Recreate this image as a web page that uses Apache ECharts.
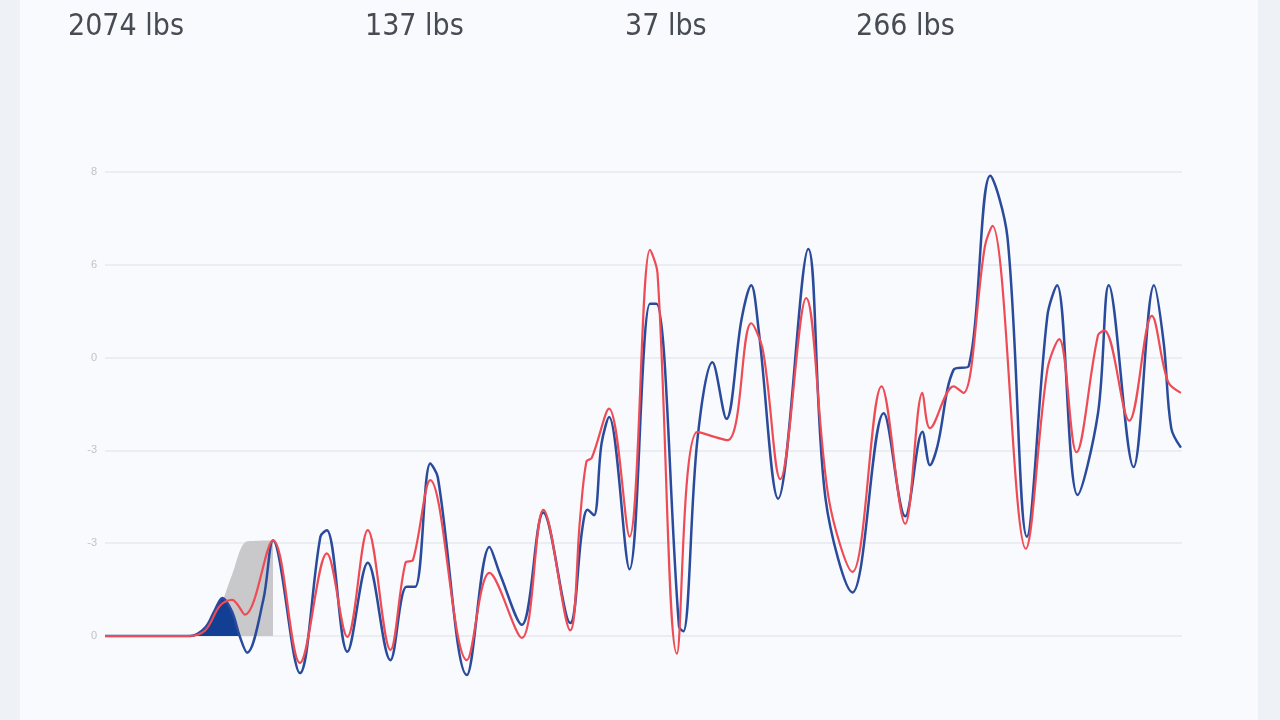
<!DOCTYPE html>
<html>
<head>
<meta charset="utf-8">
<title>chart</title>
<script src="https://cdn.jsdelivr.net/npm/echarts@6/dist/echarts.min.js"></script>
<style>
  html, body { margin: 0; padding: 0; background: #eef1f5; }
  #card { position: absolute; left: 20px; top: 0; width: 1238px; height: 720px; background: #f8fafd; }
  #chart { position: absolute; left: 0; top: 0; width: 1280px; height: 720px; }
</style>
</head>
<body>
<div id="card"></div>
<div id="chart"></div>
<script>
// header figures
var headerLabels = ['2074 lbs', '137 lbs', '37 lbs', '266 lbs'];
var headerX = [68, 365, 625, 856];
// y tick labels, bottom to top
var yTickLabels = ['0', '-3', '-3', '0', '6', '8'];

// [x, value] samples
var blueLine = [[0,0],[7.9,0],[9.3,0.09],[10.2,0.28],[10.9,0.41],[11.8,0.26],[12.5,0],[13.2,-0.18],[14.7,0.39],[15.6,1.03],
  [18.1,-0.40],[20.0,1.07],[20.6,1.14],[22.5,-0.17],[24.4,0.79],[26.5,-0.26],[28.0,0.53],[28.8,0.53],[30.2,1.86],[30.9,1.71],
  [33.6,-0.42],[35.7,0.96],[36.7,0.66],[38.7,0.12],[40.7,1.33],[43.2,0.14],[44.3,1.14],[44.8,1.36],[45.4,1.30],[46.1,2.07],
  [46.8,2.36],[48.7,0.72],[50.6,3.58],[51.2,3.58],[53.3,0.10],[53.7,0.05],[55.0,2.11],[56.4,2.95],[57.7,2.34],[59.1,3.41],
  [60.0,3.78],[60.7,3.29],[62.5,1.48],[65.3,4.17],[66.9,1.48],[69.4,0.47],[72.3,2.40],[74.3,1.29],[75.9,2.20],[76.6,1.84],
  [77.3,2.05],[78.8,2.87],[80.2,2.91],[82.2,4.96],[83.8,4.29],[85.6,1.07],[87.5,3.45],[88.4,3.78],[90.3,1.52],[92.2,2.40],
  [93.2,3.78],[95.5,1.82],[97.4,3.78],[98.3,3.16],[99.0,2.24],[99.9,2.03]];
var redLine = [[0,0],[7.7,0],[9.3,0.06],[10.7,0.33],[11.8,0.39],[13.0,0.23],[15.6,1.03],
  [18.1,-0.29],[20.6,0.89],[22.5,-0.01],[24.4,1.14],[26.5,-0.15],[27.9,0.79],[28.6,0.82],[30.2,1.68],[33.6,-0.26],
  [35.7,0.68],[38.7,-0.02],[40.7,1.36],[43.2,0.06],[44.1,1.25],[44.7,1.88],[45.2,1.92],[46.8,2.45],[48.7,1.07],
  [50.6,4.16],[51.3,3.91],[53.1,-0.19],[55.0,2.20],[57.8,2.11],[60.0,3.37],[61.1,3.07],[62.7,1.69],[65.1,3.64],
  [67.2,1.48],[69.4,0.69],[72.1,2.69],[74.3,1.21],[75.9,2.62],[76.6,2.24],[78.8,2.69],[79.7,2.62],[81.7,4.20],
  [82.4,4.42],[85.5,0.94],[87.5,2.87],[88.6,3.20],[90.2,1.98],[92.2,3.24],[92.8,3.29],[95.1,2.32],[97.2,3.45],
  [98.7,2.74],[99.9,2.62]];
var greyArea = [[8.4,0],[10.2,0.19],[11.8,0.66],[13.2,1.02],[15.6,1.03],[15.6,0]];
var blueHump = [[7.9,0],[9.3,0.09],[10.2,0.28],[10.9,0.41],[11.8,0.26],[12.5,0]];

var chart = echarts.init(document.getElementById('chart'));
var option = {
  animation: false,
  grid: { left: 105, right: 98, top: 172, bottom: 84 },
  graphic: headerLabels.map(function (t, i) {
    return { type: 'text', left: headerX[i], top: 12,
      style: { text: t, fill: '#474c54', font: '30px "Liberation Sans Narrow", "DejaVu Sans Condensed", sans-serif' } };
  }),
  xAxis: { type: 'value', min: 0, max: 100, show: false },
  yAxis: {
    type: 'value', min: 0, max: 5, interval: 1,
    axisLine: { show: false }, axisTick: { show: false },
    axisLabel: { color: '#bfc4cb', fontSize: 11, margin: 8,
      formatter: function (v) { return yTickLabels[Math.round(v)]; } },
    splitLine: { lineStyle: { color: '#e6e9ee', width: 1.5 } }
  },
  series: [
    { type: 'line', data: greyArea, symbol: 'none', smooth: 0.3, clip: false,
      lineStyle: { width: 0 }, areaStyle: { color: '#c9c9cb', opacity: 1 } },
    { type: 'line', data: blueHump, symbol: 'none', smooth: 0.4, clip: false,
      lineStyle: { width: 0 }, areaStyle: { color: '#123f94', opacity: 1 } },
    { type: 'line', data: blueLine, symbol: 'none', smooth: 0.35, clip: false,
      lineStyle: { color: '#2a4b9b', width: 2.5 } },
    { type: 'line', data: redLine, symbol: 'none', smooth: 0.35, clip: false,
      lineStyle: { color: '#ee4b55', width: 2.2 } }
  ]
};
chart.setOption(option);
</script>
</body>
</html>
